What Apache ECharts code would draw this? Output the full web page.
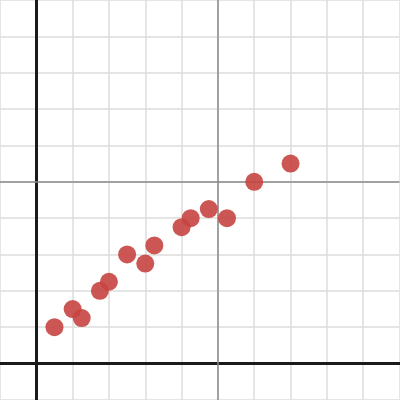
<!DOCTYPE html>
<html>
<head>
<meta charset="utf-8">
<script src="https://cdn.jsdelivr.net/npm/echarts@6/dist/echarts.min.js"></script>
<style>
html,body{margin:0;padding:0;background:#fff;}
#chart{width:400px;height:400px;}
</style>
</head>
<body>
<div id="chart"></div>
<script>
var xValues = [0.5, 1, 1.25, 1.75, 2, 2.5, 3, 3.25, 4, 4.25, 4.75, 5.25, 6, 7];
var yValues = [1, 1.5, 1.25, 2, 2.25, 3, 2.75, 3.25, 3.75, 4, 4.25, 4, 5, 5.5];
var xRange = [-1, 10];
var yRange = [-1, 10];
var majorLines = [5];

var points = xValues.map(function (x, i) { return [x, yValues[i]]; });

var chart = echarts.init(document.getElementById('chart'), null, {renderer: 'canvas'});
chart.setOption({
  animation: false,
  backgroundColor: '#ffffff',
  grid: {left: -0.9, right: 0.5, top: -0.5, bottom: 0.1, containLabel: false},
  xAxis: {
    type: 'value', min: xRange[0], max: xRange[1], interval: 1,
    axisLabel: {show: false}, axisTick: {show: false},
    axisLine: {show: true, onZero: true, lineStyle: {color: '#1a1a1a', width: 3}},
    splitLine: {show: true, lineStyle: {color: '#dcdcdc', width: 1.5}}
  },
  yAxis: {
    type: 'value', min: yRange[0], max: yRange[1], interval: 1,
    axisLabel: {show: false}, axisTick: {show: false},
    axisLine: {show: true, onZero: true, lineStyle: {color: '#1a1a1a', width: 3}},
    splitLine: {show: true, lineStyle: {color: '#dcdcdc', width: 1.5}}
  },
  series: [{
    type: 'scatter',
    data: points,
    symbolSize: 18,
    itemStyle: {color: '#c74440', opacity: 0.9},
    z: 5,
    markLine: {
      silent: true,
      symbol: 'none',
      label: {show: false},
      lineStyle: {color: '#8a8a8a', width: 1.5, type: 'solid'},
      data: majorLines.map(function (v) { return {xAxis: v}; })
        .concat(majorLines.map(function (v) { return {yAxis: v}; })),
      z: 1
    }
  }]
});
</script>
</body>
</html>
